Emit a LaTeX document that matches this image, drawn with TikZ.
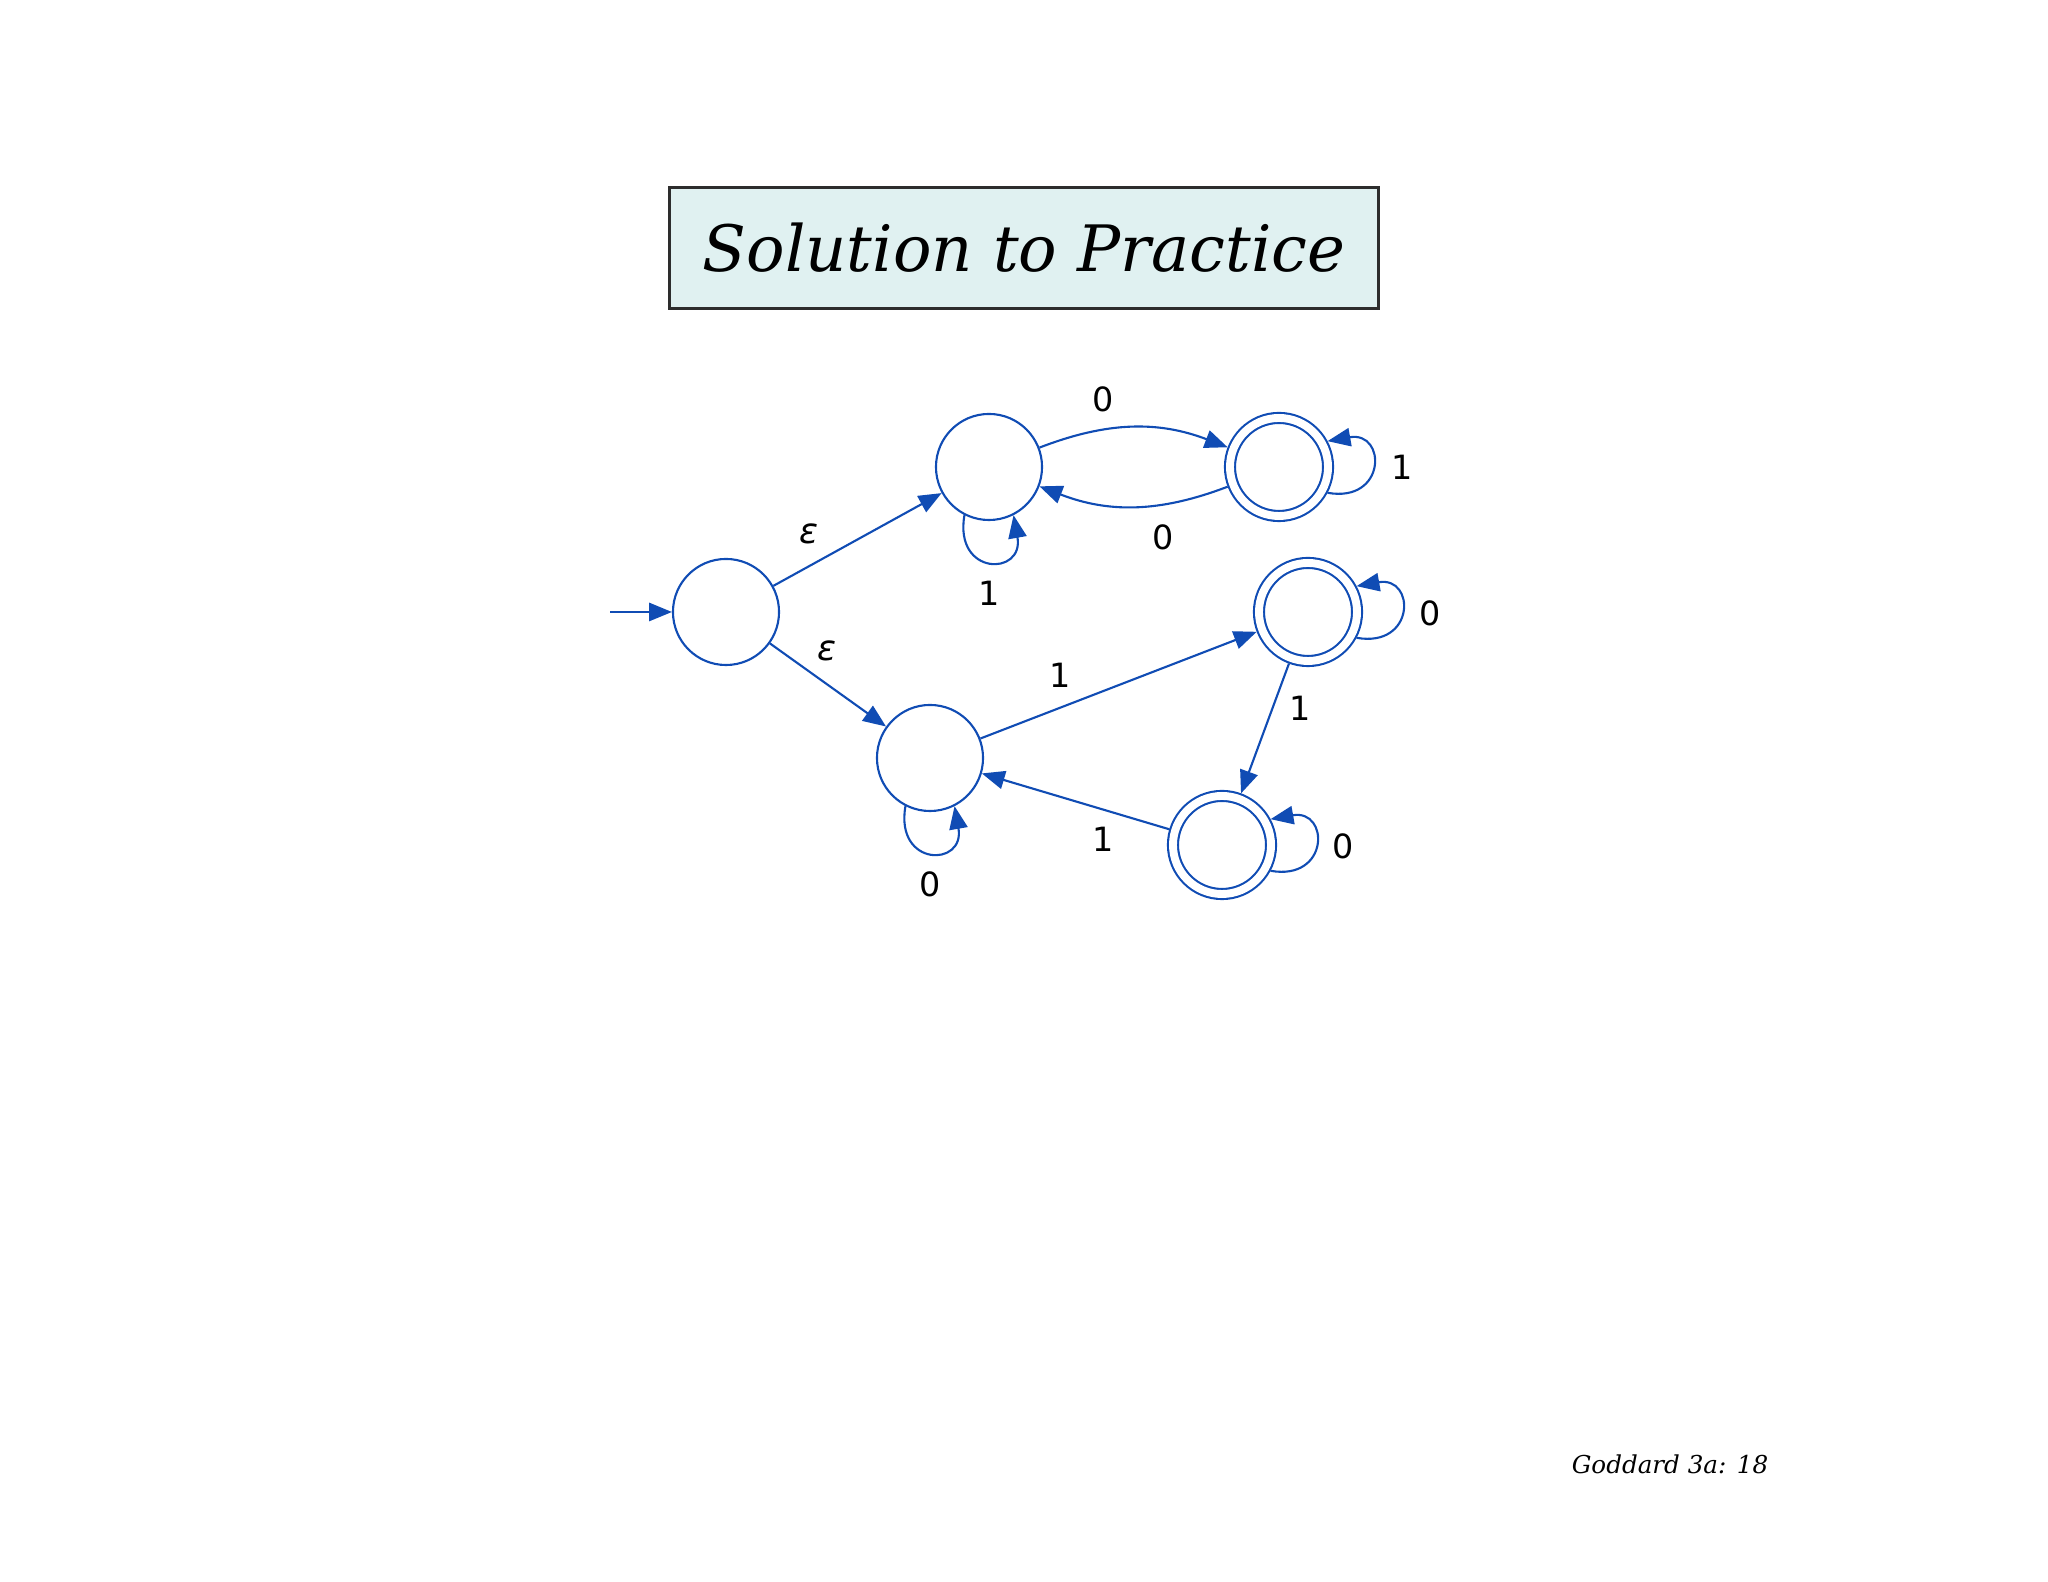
\documentclass[tikz,border=0pt]{standalone}
\usepackage{fontspec}
\setmainfont{DejaVu Sans}
\newfontfamily\slidefont{DejaVu Serif}
\usepackage{tikz}
\usetikzlibrary{arrows.meta}
\definecolor{nfablue}{RGB}{16,76,180}
\definecolor{titlefill}{RGB}{224,241,241}
\definecolor{titleframe}{RGB}{45,45,45}

\begin{document}
\begin{tikzpicture}[x=0.01cm, y=0.01cm,
  state/.style={circle, draw=nfablue, line width=0.6pt, minimum size=1.06cm, inner sep=0pt},
  accstate/.style={circle, draw=nfablue, line width=0.6pt, double, double distance=2.25pt, minimum size=0.98cm, inner sep=0pt, outer sep=1.7pt},
  trans/.style={nfablue, line width=0.6pt, -{Triangle[length=6.5pt,width=5.2pt]}},
  loopright/.style={out=-10, in=10, distance=0.6cm},
  loopbelow/.style={out=-100, in=-80, distance=0.62cm},
  lbl/.style={font=\fontsize{9.5}{11}\selectfont, inner sep=0pt},
  eps/.style={font=\fontsize{10}{12}\selectfont\itshape, inner sep=0pt}]
\useasboundingbox (0,0) rectangle (2048,1582);
% Title box
\node[draw=titleframe, line width=0.9pt, fill=titlefill, minimum width=7.08cm, minimum height=1.21cm, inner sep=0pt,
  font=\slidefont\itshape\fontsize{18.2}{22}\selectfont] (title) at (1024,1334) {Solution to Practice};
% States
\node[state] (s0) at (726,970) {};
\node[state] (qa) at (989,1115) {};
\node[accstate] (qb) at (1279,1115) {};
\node[accstate] (qc) at (1308,970) {};
\node[state] (qd) at (930,824) {};
\node[accstate] (qe) at (1222,737) {};
% Start arrow and epsilon moves
\coordinate (start) at (610,970);
\draw[trans] (start) -- (s0);
\draw[trans] (s0) -- (qa);
\draw[trans] (s0) -- (qd);
\node[eps] (eps1) at (809,1048) {ε};
\node[eps] (eps2) at (827,931) {ε};
% Upper branch
\draw[trans] (qa) to[bend left=21] (qb);
\draw[trans] (qb) to[bend left=21] (qa);
\draw[trans] (qa.-117) to[loopbelow] (qa.-63);
\draw[trans] (qb.-28) to[loopright] (qb.28);
\node[lbl] (l0ab) at (1103,1183) {0};
\node[lbl] (l0ba) at (1163,1045) {0};
\node[lbl] (l1aa) at (989,989) {1};
\node[lbl] (l1bb) at (1402,1115) {1};
% Lower branch
\draw[trans] (qd) -- (qc);
\draw[trans] (qc) -- (qe);
\draw[trans] (qe) -- (qd);
\draw[trans] (qc.-28) to[loopright] (qc.28);
\draw[trans] (qd.-117) to[loopbelow] (qd.-63);
\draw[trans] (qe.-28) to[loopright] (qe.28);
\node[lbl] (l1dc) at (1060,907) {1};
\node[lbl] (l1ce) at (1300,874) {1};
\node[lbl] (l1ed) at (1103,743) {1};
\node[lbl] (l0cc) at (1430,969) {0};
\node[lbl] (l0dd) at (930,698) {0};
\node[lbl] (l0ee) at (1343,736) {0};
% Footer
\node[font=\slidefont\itshape\fontsize{7}{8}\selectfont, inner sep=0pt] (pagenum) at (1670,118) {Goddard 3a: 18};
\end{tikzpicture}
\end{document}
